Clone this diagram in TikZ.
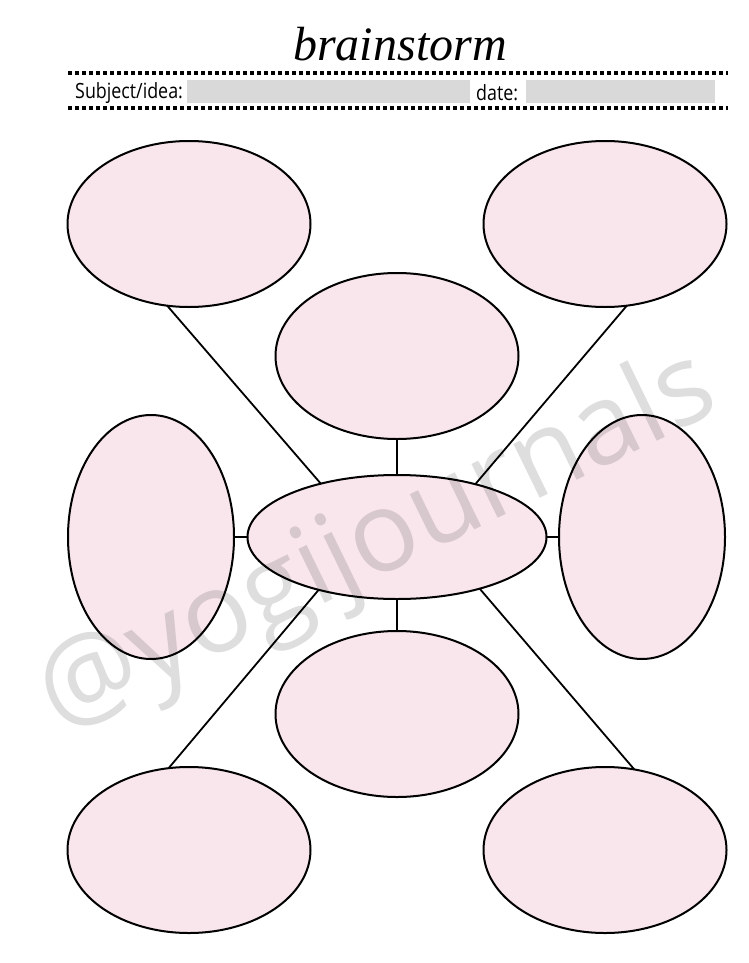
\documentclass[tikz,border=0pt]{standalone}
\usepackage{fontspec}
\usetikzlibrary{shapes.geometric}
\newfontfamily\titlefont{Liberation Serif}
\newfontfamily\labfont[FakeStretch=0.85]{Open Sans}
\newfontfamily\wmfont{Open Sans}
\definecolor{pinkfill}{RGB}{248,230,236}
\definecolor{boxgray}{RGB}{217,217,217}
\tikzset{
  bubble/.style={ellipse, draw=black, line width=2pt, fill=pinkfill, inner sep=0pt, outer sep=0pt},
  hbub/.style={bubble, minimum width=243pt, minimum height=166pt},
  vbub/.style={bubble, minimum width=166pt, minimum height=244pt},
  cbub/.style={bubble, minimum width=299pt, minimum height=124pt},
  link/.style={draw=black, line width=1.8pt},
  dotline/.style={draw=black, line width=4pt, dash pattern=on 3.6pt off 3.4pt},
  fieldbox/.style={fill=boxgray, draw=none},
  lab/.style={font=\labfont\fontsize{21}{21}\selectfont, inner sep=0pt, anchor=west}
}
\begin{document}
\begin{tikzpicture}[x=1pt,y=-1pt]
\useasboundingbox[fill=white] (0,0) rectangle (749,963);
% header
\node (title) at (400,44) {\titlefont\itshape\fontsize{48}{48}\selectfont brainstorm};
\coordinate (d1a) at (68,73); \coordinate (d1b) at (728,73);
\coordinate (d2a) at (68,108); \coordinate (d2b) at (728,108);
\draw[dotline] (d1a) -- (d1b);
\draw[dotline] (d2a) -- (d2b);
\node[lab] (subj) at (75,93) {Subject/idea:};
\fill[fieldbox] (187,80) rectangle (470,103);
\node[lab] (date) at (476,93) {date:};
\fill[fieldbox] (526,80) rectangle (715,103);
% connectors
\node[hbub] (tl) at (189,224) {};
\node[hbub] (tr) at (605,224) {};
\node[hbub] (tm) at (397,356) {};
\node[vbub] (ml) at (151,537) {};
\node[vbub] (mr) at (642,537) {};
\node[hbub] (bm) at (397,714) {};
\node[hbub] (bl) at (189,850) {};
\node[hbub] (br) at (605,850) {};
\node[cbub] (c) at (397,537) {};
\draw[link] (tl.255) -- (c.145.5);
\draw[link] (tr.285) -- (c.34.5);
\draw[link] (bl.104) -- (c.214.5);
\draw[link] (br.70.5) -- (c.328);
\draw[link] (tm.south) -- (c.north);
\draw[link] (bm.north) -- (c.south);
\draw[link] (ml.east) -- (c.west);
\draw[link] (mr.west) -- (c.east);
% watermark
\node[rotate=26, text=black, text opacity=0.13, inner sep=0pt] (wm) at (378,545) {\wmfont\fontsize{112}{112}\selectfont @yogijournals};
\end{tikzpicture}
\end{document}
